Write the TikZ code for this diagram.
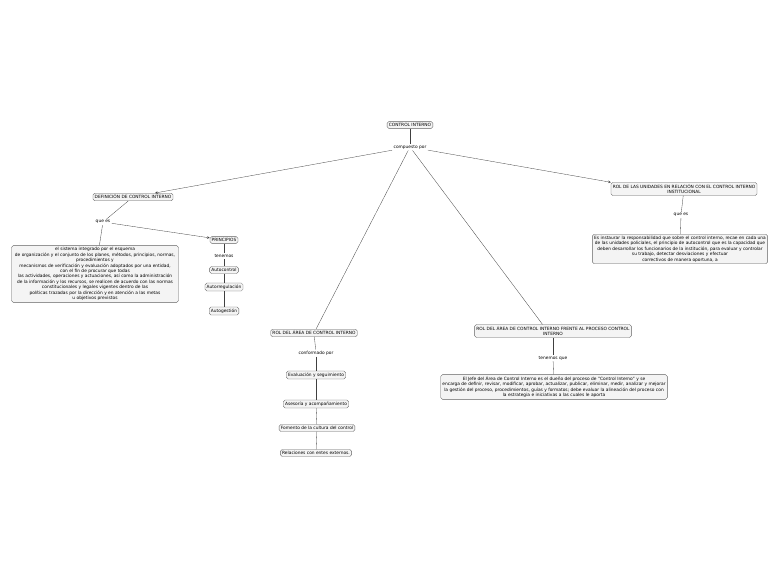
\documentclass[tikz,border=0pt]{standalone}
\usepackage{fontspec}
\setmainfont{DejaVu Sans}
\usetikzlibrary{positioning}

\begin{document}
\begin{tikzpicture}[x=0.04cm, y=-0.04cm, >=stealth,
  concepto/.style={rectangle, draw=gray!75!black, rounded corners=2pt, fill=gray!9, text centered, align=center, inner sep=2pt, font=\fontsize{4.95}{6.2}\selectfont},
  enlace/.style={inner sep=1.5pt, font=\fontsize{4.95}{6.2}\selectfont},
  arista/.style={draw=gray!50!black, line width=0.35pt}]
\useasboundingbox (0,0) rectangle (768,578);

% Nodo raiz
\node (control) [concepto] at (410,125) {CONTROL INTERNO};
\node (compuesto) [enlace] at (410,147) {compuesto por};

% Rama izquierda: definicion
\node (definicion) [concepto] at (133,197) {DEFINICIÓN DE CONTROL INTERNO};
\node (quees) [enlace] at (103,222) {que es};
\node (sistema) [concepto, inner xsep=4pt] at (95,274)
    {el sistema integrado por el esquema\\
     de organización y el conjunto de los planes, métodos, principios, normas,\\
     procedimientos y\\
     mecanismos de verificación y evaluación adoptados por una entidad,\\
     con el fin de procurar que todas\\
     las actividades, operaciones y actuaciones, así como la administración\\
     de la información y los recursos, se realicen de acuerdo con las normas\\
     constitucionales y legales vigentes dentro de las\\
     políticas trazadas por la dirección y en atención a las metas\\
     u objetivos previstos};
\node (principios) [concepto] at (224,240) {PRINCIPIOS};
\node (tenemos) [enlace] at (224,256) {tenemos};
\node (autocontrol) [concepto] at (224,270) {Autocontrol};
\node (autorregulacion) [concepto] at (224,287) {Autorregulación};
\node (autogestion) [concepto] at (224,311) {Autogestión};

% Rama central: rol del area
\node (rolarea) [concepto] at (314,333) {ROL DEL ÁREA DE CONTROL INTERNO};
\node (conformado) [enlace] at (316,353) {conformado por};
\node (evaluacion) [concepto] at (316,375) {Evaluación y seguimiento};
\node (asesoria) [concepto] at (316,404) {Asesoría y acompañamiento};
\node (fomento) [concepto] at (317,428) {Fomento de la cultura del control};
\node (relaciones) [concepto] at (316,453) {Relaciones con entes externos.};

% Rama frente al proceso
\node (rolfrente) [concepto] at (553,331)
    {ROL DEL ÁREA DE CONTROL INTERNO FRENTE AL PROCESO CONTROL\\ INTERNO};
\node (tenemosque) [enlace] at (553,358) {tenemos que};
\node (jefe) [concepto] at (554,387)
    {El Jefe del Área de Control Interno es el dueño del proceso de "Control Interno" y se\\
     encarga de definir, revisar, modificar, aprobar, actualizar, publicar, eliminar, medir, analizar y mejorar\\
     la gestión del proceso, procedimientos, guías y formatos; debe evaluar la alineación del proceso con\\
     la estrategia e iniciativas a las cuales le aporta};

% Rama derecha: rol de las unidades
\node (rolunidades) [concepto] at (684,189)
    {ROL DE LAS UNIDADES EN RELACIÓN CON EL CONTROL INTERNO\\ INSTITUCIONAL};
\node (quees2) [enlace] at (681,215) {que es};
\node (instaurar) [concepto] at (680,249)
    {Es instaurar la responsabilidad que sobre el control interno, recae en cada una\\
     de las unidades policiales, el principio de autocontrol que es la capacidad que\\
     deben desarrollar los funcionarios de la institución, para evaluar y controlar\\
     su trabajo, detectar desviaciones y efectuar\\
     correctivos de manera oportuna, a};

% Aristas
\draw [arista] (control) -- (compuesto);
\draw [arista, ->] (compuesto) -- (definicion);
\draw [arista] (compuesto) -- (rolarea);
\draw [arista] (compuesto) -- ([xshift=-12pt]rolfrente.north);
\draw [arista, ->] (compuesto) -- (rolunidades.north west);
\draw [arista] (definicion) -- (quees);
\draw [arista] (quees) -- (sistema);
\draw [arista, ->] (quees) -- (principios);
\draw [arista] (principios) -- (tenemos);
\draw [arista] (tenemos) -- (autocontrol);
\draw [arista] (autocontrol) -- (autorregulacion);
\draw [arista] (autorregulacion) -- (autogestion);
\draw [arista] (rolarea) -- (conformado);
\draw [arista] (conformado) -- (evaluacion);
\draw [arista] (evaluacion) -- (asesoria);
\draw [arista] (asesoria) -- (fomento);
\draw [arista] (fomento) -- (relaciones);
\draw [arista] (rolfrente) -- (tenemosque);
\draw [arista] (tenemosque) -- (jefe);
\draw [arista] (rolunidades) -- (quees2);
\draw [arista] (quees2) -- (instaurar);
\end{tikzpicture}
\end{document}
